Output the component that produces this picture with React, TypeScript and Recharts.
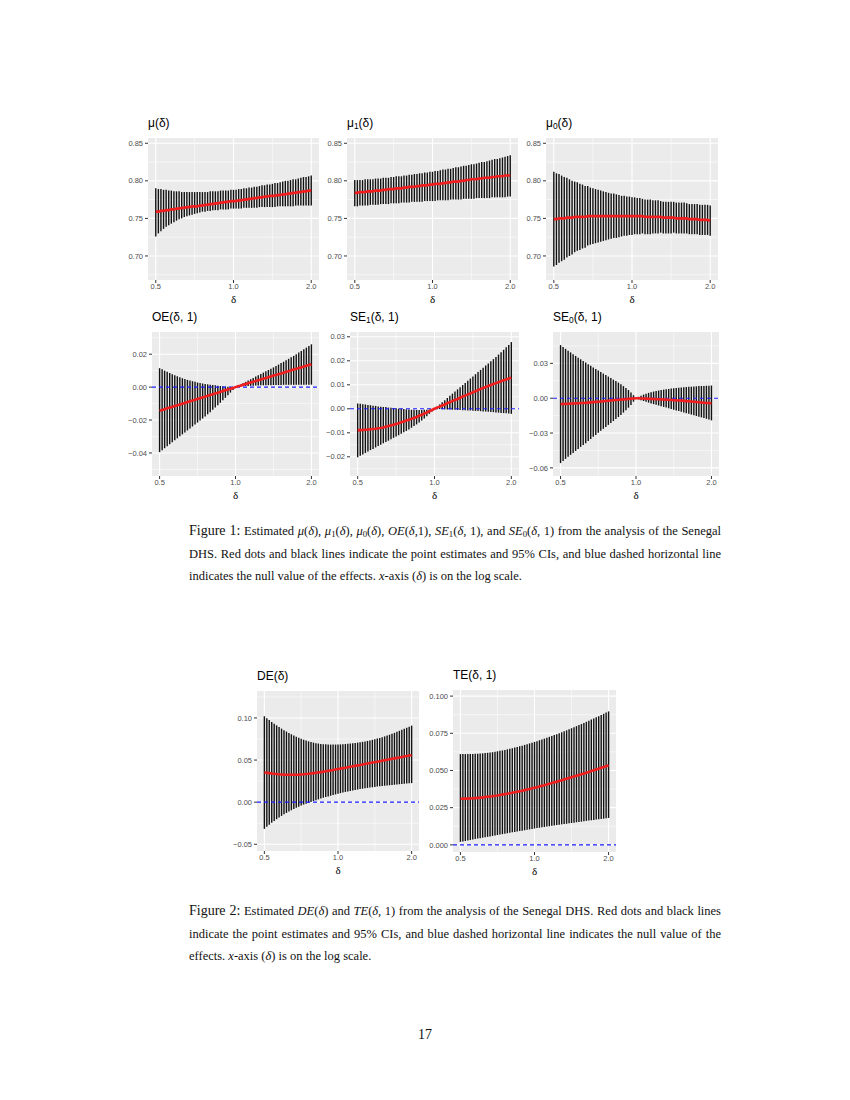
import React from 'react';
import { ComposedChart, Scatter, Line, ErrorBar, XAxis, YAxis, CartesianGrid, ReferenceLine } from 'recharts';

// delta grid (log scale, 0.5 .. 2)
const delta = [
  0.5, 0.5117, 0.5235, 0.5359, 0.5484, 0.5612, 0.5743, 0.5878, 0.6015, 0.6156,
  0.63, 0.6447, 0.6598, 0.6752, 0.691, 0.7071, 0.7236, 0.7406, 0.7579, 0.7756,
  0.7937, 0.8123, 0.8312, 0.8507, 0.8706, 0.8909, 0.9117, 0.933, 0.9548, 0.9772,
  1, 1.0234, 1.0473, 1.0718, 1.0968, 1.1225, 1.1487, 1.1755, 1.203, 1.2311,
  1.2599, 1.2894, 1.3195, 1.3504, 1.3819, 1.4142, 1.4473, 1.4811, 1.5157, 1.5511,
  1.5874, 1.6245, 1.6625, 1.7013, 1.7411, 1.7818, 1.8234, 1.8661, 1.9097, 1.9543,
  2,
];
const xTicks = [0.5, 1, 2];
const xMinor = [0.7071, 1.4142];

// mu(delta)
const muEst = [
  0.759, 0.759, 0.760, 0.760, 0.761, 0.761, 0.762, 0.762, 0.763, 0.763,
  0.764, 0.764, 0.765, 0.765, 0.766, 0.766, 0.766, 0.767, 0.767, 0.768,
  0.768, 0.769, 0.769, 0.770, 0.770, 0.771, 0.771, 0.772, 0.772, 0.773,
  0.773, 0.773, 0.774, 0.774, 0.775, 0.775, 0.776, 0.776, 0.777, 0.777,
  0.778, 0.778, 0.779, 0.779, 0.780, 0.780, 0.780, 0.781, 0.781, 0.782,
  0.782, 0.783, 0.783, 0.784, 0.784, 0.785, 0.785, 0.786, 0.786, 0.787,
  0.787,
];
const muHi = [
  0.790, 0.789, 0.789, 0.788, 0.788, 0.787, 0.787, 0.786, 0.786, 0.786,
  0.785, 0.785, 0.785, 0.785, 0.785, 0.785, 0.785, 0.785, 0.785, 0.785,
  0.785, 0.786, 0.786, 0.786, 0.786, 0.787, 0.787, 0.787, 0.787, 0.788,
  0.788, 0.788, 0.789, 0.789, 0.790, 0.790, 0.791, 0.791, 0.792, 0.792,
  0.793, 0.794, 0.794, 0.795, 0.795, 0.796, 0.797, 0.797, 0.798, 0.799,
  0.800, 0.800, 0.801, 0.802, 0.802, 0.803, 0.804, 0.805, 0.805, 0.806,
  0.807,
];
const muLo = [
  0.726, 0.730, 0.733, 0.736, 0.739, 0.741, 0.743, 0.745, 0.747, 0.749,
  0.750, 0.752, 0.753, 0.754, 0.755, 0.756, 0.757, 0.758, 0.759, 0.759,
  0.760, 0.760, 0.761, 0.761, 0.761, 0.762, 0.762, 0.762, 0.762, 0.763,
  0.763, 0.763, 0.763, 0.763, 0.764, 0.764, 0.764, 0.764, 0.764, 0.764,
  0.765, 0.765, 0.765, 0.765, 0.765, 0.765, 0.765, 0.766, 0.766, 0.766,
  0.766, 0.766, 0.766, 0.766, 0.767, 0.767, 0.767, 0.767, 0.767, 0.767,
  0.767,
];

// mu1(delta)
const mu1Est = [
  0.784, 0.784, 0.785, 0.785, 0.785, 0.786, 0.786, 0.786, 0.787, 0.787,
  0.787, 0.788, 0.788, 0.789, 0.789, 0.789, 0.790, 0.790, 0.790, 0.791,
  0.791, 0.792, 0.792, 0.792, 0.793, 0.793, 0.794, 0.794, 0.794, 0.795,
  0.795, 0.796, 0.796, 0.796, 0.797, 0.797, 0.798, 0.798, 0.799, 0.799,
  0.799, 0.800, 0.800, 0.801, 0.801, 0.802, 0.802, 0.802, 0.803, 0.803,
  0.804, 0.804, 0.804, 0.805, 0.805, 0.806, 0.806, 0.806, 0.807, 0.807,
  0.807,
];
const mu1Hi = [
  0.801, 0.801, 0.801, 0.801, 0.802, 0.802, 0.802, 0.802, 0.803, 0.803,
  0.803, 0.804, 0.804, 0.804, 0.805, 0.805, 0.806, 0.806, 0.806, 0.807,
  0.807, 0.808, 0.808, 0.809, 0.809, 0.810, 0.810, 0.811, 0.811, 0.812,
  0.812, 0.813, 0.813, 0.814, 0.815, 0.815, 0.816, 0.816, 0.817, 0.818,
  0.818, 0.819, 0.820, 0.820, 0.821, 0.822, 0.822, 0.823, 0.824, 0.825,
  0.825, 0.826, 0.827, 0.828, 0.829, 0.829, 0.830, 0.831, 0.832, 0.833,
  0.834,
];
const mu1Lo = [
  0.766, 0.766, 0.767, 0.767, 0.767, 0.767, 0.768, 0.768, 0.768, 0.768,
  0.769, 0.769, 0.769, 0.769, 0.770, 0.770, 0.770, 0.770, 0.771, 0.771,
  0.771, 0.771, 0.772, 0.772, 0.772, 0.772, 0.772, 0.773, 0.773, 0.773,
  0.773, 0.773, 0.774, 0.774, 0.774, 0.774, 0.774, 0.775, 0.775, 0.775,
  0.775, 0.775, 0.776, 0.776, 0.776, 0.776, 0.776, 0.777, 0.777, 0.777,
  0.777, 0.777, 0.777, 0.778, 0.778, 0.778, 0.778, 0.778, 0.778, 0.779,
  0.779,
];

// mu0(delta)
const mu0Est = [
  0.749, 0.749, 0.750, 0.750, 0.750, 0.751, 0.751, 0.751, 0.752, 0.752,
  0.752, 0.752, 0.752, 0.753, 0.753, 0.753, 0.753, 0.753, 0.753, 0.753,
  0.753, 0.753, 0.753, 0.753, 0.753, 0.753, 0.753, 0.753, 0.753, 0.753,
  0.753, 0.753, 0.753, 0.753, 0.753, 0.752, 0.752, 0.752, 0.752, 0.752,
  0.752, 0.752, 0.751, 0.751, 0.751, 0.751, 0.751, 0.750, 0.750, 0.750,
  0.750, 0.750, 0.749, 0.749, 0.749, 0.749, 0.748, 0.748, 0.748, 0.748,
  0.747,
];
const mu0Hi = [
  0.812, 0.810, 0.809, 0.807, 0.805, 0.804, 0.802, 0.800, 0.799, 0.798,
  0.796, 0.795, 0.793, 0.793, 0.791, 0.790, 0.789, 0.788, 0.787, 0.786,
  0.785, 0.784, 0.783, 0.783, 0.782, 0.781, 0.780, 0.780, 0.779, 0.779,
  0.778, 0.778, 0.777, 0.777, 0.776, 0.775, 0.775, 0.775, 0.774, 0.774,
  0.774, 0.773, 0.772, 0.772, 0.772, 0.772, 0.772, 0.771, 0.771, 0.771,
  0.771, 0.770, 0.769, 0.769, 0.769, 0.769, 0.768, 0.768, 0.768, 0.768,
  0.767,
];
const mu0Lo = [
  0.686, 0.688, 0.691, 0.693, 0.695, 0.698, 0.700, 0.702, 0.705, 0.707,
  0.708, 0.710, 0.711, 0.714, 0.715, 0.716, 0.717, 0.718, 0.719, 0.720,
  0.721, 0.722, 0.723, 0.724, 0.724, 0.725, 0.726, 0.727, 0.727, 0.728,
  0.728, 0.729, 0.729, 0.729, 0.730, 0.729, 0.729, 0.729, 0.730, 0.730,
  0.730, 0.731, 0.730, 0.730, 0.730, 0.730, 0.731, 0.730, 0.730, 0.730,
  0.730, 0.730, 0.729, 0.729, 0.729, 0.729, 0.728, 0.728, 0.728, 0.728,
  0.727,
];

// OE(delta, 1)
const oeEst = [
  -0.0144, -0.0139, -0.0134, -0.0129, -0.0124, -0.0120, -0.0115, -0.0110, -0.0106, -0.0101,
  -0.0096, -0.0091, -0.0086, -0.0082, -0.0077, -0.0072, -0.0067, -0.0062, -0.0058, -0.0053,
  -0.0048, -0.0043, -0.0038, -0.0034, -0.0029, -0.0024, -0.0019, -0.0014, -0.0010, -0.0005,
  0, 0.0005, 0.0009, 0.0014, 0.0019, 0.0023, 0.0028, 0.0032, 0.0037, 0.0042,
  0.0046, 0.0051, 0.0056, 0.0060, 0.0065, 0.0070, 0.0074, 0.0079, 0.0083, 0.0088,
  0.0093, 0.0097, 0.0102, 0.0107, 0.0111, 0.0116, 0.0120, 0.0125, 0.0130, 0.0134,
  0.0139,
];
const oeHi = [
  0.0115, 0.0108, 0.0100, 0.0093, 0.0086, 0.0079, 0.0072, 0.0066, 0.0060, 0.0054,
  0.0049, 0.0044, 0.0040, 0.0036, 0.0032, 0.0028, 0.0025, 0.0022, 0.0019, 0.0017,
  0.0015, 0.0013, 0.0011, 0.0009, 0.0007, 0.0006, 0.0004, 0.0003, 0.0002, 0.0001,
  0, 0.0008, 0.0016, 0.0024, 0.0032, 0.0040, 0.0048, 0.0056, 0.0064, 0.0072,
  0.0080, 0.0088, 0.0096, 0.0104, 0.0112, 0.0120, 0.0129, 0.0137, 0.0146, 0.0154,
  0.0163, 0.0172, 0.0181, 0.0190, 0.0200, 0.0210, 0.0220, 0.0230, 0.0240, 0.0250,
  0.0260,
];
const oeLo = [
  -0.0395, -0.0383, -0.0371, -0.0359, -0.0347, -0.0335, -0.0323, -0.0311, -0.0299, -0.0287,
  -0.0275, -0.0263, -0.0251, -0.0239, -0.0227, -0.0215, -0.0203, -0.0191, -0.0178, -0.0165,
  -0.0152, -0.0138, -0.0124, -0.0110, -0.0095, -0.0080, -0.0065, -0.0049, -0.0033, -0.0017,
  0, 0.0002, 0.0004, 0.0005, 0.0006, 0.0007, 0.0008, 0.0009, 0.0010, 0.0010,
  0.0011, 0.0011, 0.0012, 0.0012, 0.0012, 0.0013, 0.0013, 0.0013, 0.0013, 0.0014,
  0.0014, 0.0014, 0.0014, 0.0014, 0.0014, 0.0015, 0.0015, 0.0015, 0.0015, 0.0015,
  0.0015,
];

// SE1(delta, 1)
const se1Est = [
  -0.0090, -0.0089, -0.0088, -0.0087, -0.0086, -0.0085, -0.0084, -0.0083, -0.0081, -0.0080,
  -0.0078, -0.0075, -0.0072, -0.0069, -0.0066, -0.0063, -0.0060, -0.0056, -0.0053, -0.0049,
  -0.0046, -0.0042, -0.0038, -0.0034, -0.0029, -0.0025, -0.0020, -0.0015, -0.0010, -0.0005,
  0, 0.0005, 0.0009, 0.0014, 0.0018, 0.0023, 0.0028, 0.0032, 0.0037, 0.0041,
  0.0046, 0.0051, 0.0055, 0.0060, 0.0064, 0.0069, 0.0073, 0.0078, 0.0083, 0.0087,
  0.0091, 0.0095, 0.0099, 0.0103, 0.0107, 0.0111, 0.0115, 0.0119, 0.0122, 0.0126,
  0.0130,
];
const se1Hi = [
  0.0022, 0.0021, 0.0019, 0.0018, 0.0016, 0.0015, 0.0013, 0.0012, 0.0010, 0.0009,
  0.0008, 0.0007, 0.0005, 0.0004, 0.0003, 0.0002, 0.0001, 0, -0.0001, -0.0002,
  -0.0003, -0.0004, -0.0004, -0.0005, -0.0005, -0.0005, -0.0004, -0.0004, -0.0003, -0.0001,
  0, 0.0009, 0.0018, 0.0027, 0.0036, 0.0045, 0.0054, 0.0063, 0.0072, 0.0081,
  0.0090, 0.0099, 0.0108, 0.0117, 0.0126, 0.0135, 0.0144, 0.0153, 0.0162, 0.0171,
  0.0180, 0.0189, 0.0198, 0.0207, 0.0216, 0.0226, 0.0236, 0.0246, 0.0256, 0.0266,
  0.0278,
];
const se1Lo = [
  -0.0202, -0.0196, -0.0190, -0.0184, -0.0178, -0.0172, -0.0167, -0.0161, -0.0155, -0.0150,
  -0.0144, -0.0138, -0.0133, -0.0127, -0.0121, -0.0115, -0.0110, -0.0104, -0.0098, -0.0092,
  -0.0086, -0.0079, -0.0072, -0.0065, -0.0057, -0.0049, -0.0040, -0.0031, -0.0021, -0.0011,
  0, -0.0001, -0.0001, -0.0002, -0.0002, -0.0003, -0.0003, -0.0004, -0.0004, -0.0005,
  -0.0005, -0.0006, -0.0006, -0.0007, -0.0007, -0.0008, -0.0009, -0.0009, -0.0010, -0.0011,
  -0.0011, -0.0012, -0.0013, -0.0014, -0.0015, -0.0016, -0.0017, -0.0018, -0.0019, -0.0020,
  -0.0021,
];

// SE0(delta, 1)
const se0Est = [
  -0.0051, -0.0050, -0.0049, -0.0048, -0.0047, -0.0046, -0.0045, -0.0044, -0.0042, -0.0041,
  -0.0040, -0.0038, -0.0036, -0.0034, -0.0032, -0.0030, -0.0028, -0.0026, -0.0024, -0.0022,
  -0.0020, -0.0018, -0.0016, -0.0014, -0.0012, -0.0010, -0.0008, -0.0006, -0.0004, -0.0002,
  0, -0.0001, -0.0002, -0.0003, -0.0004, -0.0005, -0.0006, -0.0007, -0.0008, -0.0009,
  -0.0010, -0.0011, -0.0012, -0.0014, -0.0015, -0.0017, -0.0018, -0.0020, -0.0021, -0.0023,
  -0.0025, -0.0027, -0.0029, -0.0031, -0.0033, -0.0035, -0.0037, -0.0039, -0.0041, -0.0042,
  -0.0043,
];
const se0Hi = [
  0.0457, 0.0441, 0.0425, 0.0409, 0.0394, 0.0379, 0.0364, 0.0349, 0.0335, 0.0321,
  0.0307, 0.0293, 0.0279, 0.0265, 0.0252, 0.0238, 0.0225, 0.0212, 0.0199, 0.0186,
  0.0173, 0.0160, 0.0147, 0.0134, 0.0120, 0.0104, 0.0088, 0.0070, 0.0050, 0.0026,
  0, 0.0012, 0.0022, 0.0031, 0.0039, 0.0046, 0.0052, 0.0057, 0.0062, 0.0066,
  0.0070, 0.0074, 0.0077, 0.0080, 0.0083, 0.0086, 0.0088, 0.0090, 0.0092, 0.0094,
  0.0096, 0.0098, 0.0099, 0.0101, 0.0102, 0.0104, 0.0105, 0.0106, 0.0107, 0.0108,
  0.0109,
];
const se0Lo = [
  -0.0559, -0.0541, -0.0523, -0.0505, -0.0488, -0.0471, -0.0454, -0.0437, -0.0419, -0.0403,
  -0.0387, -0.0369, -0.0351, -0.0333, -0.0316, -0.0298, -0.0281, -0.0264, -0.0247, -0.0230,
  -0.0213, -0.0196, -0.0179, -0.0162, -0.0144, -0.0124, -0.0104, -0.0082, -0.0058, -0.0030,
  0, -0.0009, -0.0017, -0.0024, -0.0031, -0.0038, -0.0045, -0.0051, -0.0057, -0.0063,
  -0.0069, -0.0075, -0.0081, -0.0087, -0.0093, -0.0099, -0.0105, -0.0111, -0.0117, -0.0123,
  -0.0129, -0.0135, -0.0141, -0.0147, -0.0153, -0.0159, -0.0165, -0.0171, -0.0177, -0.0184,
  -0.0191,
];

// DE(delta)
const deEst = [
  0.0353, 0.0349, 0.0345, 0.0341, 0.0337, 0.0334, 0.0331, 0.0329, 0.0327, 0.0326,
  0.0325, 0.0325, 0.0325, 0.0326, 0.0327, 0.0329, 0.0331, 0.0334, 0.0337, 0.0341,
  0.0345, 0.0349, 0.0353, 0.0357, 0.0362, 0.0367, 0.0372, 0.0377, 0.0382, 0.0388,
  0.0393, 0.0398, 0.0404, 0.0409, 0.0415, 0.0420, 0.0426, 0.0431, 0.0437, 0.0442,
  0.0448, 0.0453, 0.0459, 0.0464, 0.0470, 0.0475, 0.0481, 0.0486, 0.0492, 0.0498,
  0.0504, 0.0509, 0.0515, 0.0520, 0.0526, 0.0531, 0.0537, 0.0542, 0.0547, 0.0553,
  0.0558,
];
const deHi = [
  0.1020, 0.0997, 0.0975, 0.0953, 0.0932, 0.0912, 0.0892, 0.0873, 0.0855, 0.0838,
  0.0822, 0.0806, 0.0792, 0.0778, 0.0765, 0.0753, 0.0742, 0.0732, 0.0722, 0.0714,
  0.0707, 0.0701, 0.0696, 0.0692, 0.0689, 0.0687, 0.0685, 0.0684, 0.0684, 0.0684,
  0.0685, 0.0686, 0.0688, 0.0690, 0.0693, 0.0696, 0.0699, 0.0703, 0.0707, 0.0711,
  0.0716, 0.0721, 0.0727, 0.0733, 0.0740, 0.0747, 0.0755, 0.0763, 0.0772, 0.0781,
  0.0791, 0.0801, 0.0812, 0.0823, 0.0835, 0.0847, 0.0859, 0.0871, 0.0884, 0.0896,
  0.0909,
];
const deLo = [
  -0.0317, -0.0292, -0.0268, -0.0245, -0.0223, -0.0202, -0.0182, -0.0163, -0.0145, -0.0128,
  -0.0112, -0.0096, -0.0081, -0.0067, -0.0054, -0.0041, -0.0029, -0.0018, -0.0008, 0.0003,
  0.0013, 0.0023, 0.0033, 0.0042, 0.0051, 0.0060, 0.0068, 0.0076, 0.0084, 0.0092,
  0.0100, 0.0107, 0.0114, 0.0121, 0.0127, 0.0133, 0.0139, 0.0145, 0.0150, 0.0155,
  0.0160, 0.0165, 0.0169, 0.0173, 0.0177, 0.0181, 0.0185, 0.0189, 0.0192, 0.0195,
  0.0198, 0.0201, 0.0204, 0.0207, 0.0210, 0.0213, 0.0216, 0.0219, 0.0222, 0.0224,
  0.0226,
];

// TE(delta, 1)
const teEst = [
  0.0310, 0.0310, 0.0311, 0.0311, 0.0312, 0.0313, 0.0314, 0.0316, 0.0317, 0.0319,
  0.0321, 0.0323, 0.0325, 0.0327, 0.0330, 0.0332, 0.0335, 0.0338, 0.0341, 0.0344,
  0.0347, 0.0350, 0.0354, 0.0357, 0.0361, 0.0364, 0.0368, 0.0372, 0.0376, 0.0380,
  0.0384, 0.0388, 0.0393, 0.0397, 0.0401, 0.0406, 0.0410, 0.0415, 0.0420, 0.0424,
  0.0429, 0.0434, 0.0439, 0.0444, 0.0449, 0.0454, 0.0459, 0.0464, 0.0469, 0.0474,
  0.0480, 0.0485, 0.0490, 0.0496, 0.0501, 0.0507, 0.0512, 0.0518, 0.0523, 0.0529,
  0.0535,
];
const teHi = [
  0.0610, 0.0610, 0.0610, 0.0610, 0.0611, 0.0611, 0.0612, 0.0613, 0.0614, 0.0615,
  0.0617, 0.0619, 0.0621, 0.0623, 0.0626, 0.0629, 0.0632, 0.0635, 0.0638, 0.0642,
  0.0646, 0.0650, 0.0654, 0.0658, 0.0663, 0.0667, 0.0672, 0.0677, 0.0682, 0.0687,
  0.0692, 0.0697, 0.0703, 0.0708, 0.0714, 0.0720, 0.0726, 0.0732, 0.0738, 0.0744,
  0.0750, 0.0757, 0.0763, 0.0770, 0.0777, 0.0784, 0.0791, 0.0798, 0.0805, 0.0812,
  0.0819, 0.0827, 0.0834, 0.0842, 0.0849, 0.0857, 0.0865, 0.0873, 0.0881, 0.0889,
  0.0897,
];
const teLo = [
  0.0020, 0.0023, 0.0026, 0.0030, 0.0033, 0.0036, 0.0039, 0.0042, 0.0045, 0.0048,
  0.0051, 0.0054, 0.0057, 0.0060, 0.0063, 0.0066, 0.0069, 0.0072, 0.0075, 0.0078,
  0.0081, 0.0084, 0.0087, 0.0090, 0.0093, 0.0095, 0.0098, 0.0101, 0.0104, 0.0107,
  0.0110, 0.0113, 0.0115, 0.0118, 0.0120, 0.0123, 0.0125, 0.0128, 0.0130, 0.0133,
  0.0135, 0.0138, 0.0140, 0.0142, 0.0145, 0.0147, 0.0149, 0.0152, 0.0154, 0.0156,
  0.0158, 0.0161, 0.0163, 0.0165, 0.0167, 0.0170, 0.0172, 0.0174, 0.0176, 0.0179,
  0.0181,
];

const SANS = '"Liberation Sans", Arial, Helvetica, sans-serif';
const SERIF = '"Liberation Serif", "Times New Roman", serif';

const sub = (s: string) => <sub style={{ fontSize: '70%', verticalAlign: '-0.25em', lineHeight: 0 }}>{s}</sub>;

const fmt = (digits: number) => (v: number) =>
  v < -1e-9 ? '\u2212' + Math.abs(v).toFixed(digits) : Math.abs(v).toFixed(digits);

const panels = [
  { key: 'mu', title: <>μ(δ)</>, est: muEst, lo: muLo, hi: muHi, x: 148, y: 138, w: 171, h: 142,
    domain: [0.668, 0.857], yTicks: [0.7, 0.75, 0.8, 0.85], yMinor: [0.675, 0.725, 0.775, 0.825], digits: 2, nullLine: false },
  { key: 'mu1', title: <>μ{sub('1')}(δ)</>, est: mu1Est, lo: mu1Lo, hi: mu1Hi, x: 347, y: 138, w: 171, h: 142,
    domain: [0.668, 0.857], yTicks: [0.7, 0.75, 0.8, 0.85], yMinor: [0.675, 0.725, 0.775, 0.825], digits: 2, nullLine: false },
  { key: 'mu0', title: <>μ{sub('0')}(δ)</>, est: mu0Est, lo: mu0Lo, hi: mu0Hi, x: 546, y: 138, w: 172, h: 142,
    domain: [0.668, 0.857], yTicks: [0.7, 0.75, 0.8, 0.85], yMinor: [0.675, 0.725, 0.775, 0.825], digits: 2, nullLine: false },
  { key: 'oe', title: <>OE(δ, 1)</>, est: oeEst, lo: oeLo, hi: oeHi, x: 152, y: 332, w: 167, h: 144,
    domain: [-0.054, 0.0335], yTicks: [-0.04, -0.02, 0, 0.02], yMinor: [-0.05, -0.03, -0.01, 0.01, 0.03], digits: 2, nullLine: true },
  { key: 'se1', title: <>SE{sub('1')}(δ, 1)</>, est: se1Est, lo: se1Lo, hi: se1Hi, x: 350, y: 332, w: 169, h: 144,
    domain: [-0.028, 0.032], yTicks: [-0.02, -0.01, 0, 0.01, 0.02, 0.03], yMinor: [-0.025, -0.015, -0.005, 0.005, 0.015, 0.025], digits: 2, nullLine: true },
  { key: 'se0', title: <>SE{sub('0')}(δ, 1)</>, est: se0Est, lo: se0Lo, hi: se0Hi, x: 553, y: 332, w: 166, h: 144,
    domain: [-0.067, 0.057], yTicks: [-0.06, -0.03, 0, 0.03], yMinor: [-0.045, -0.015, 0.015, 0.045], digits: 2, nullLine: true },
  { key: 'de', title: <>DE(δ)</>, est: deEst, lo: deLo, hi: deHi, x: 257, y: 691, w: 162, h: 160,
    domain: [-0.058, 0.132], yTicks: [-0.05, 0, 0.05, 0.1], yMinor: [-0.025, 0.025, 0.075, 0.125], digits: 2, nullLine: true },
  { key: 'te', title: <>TE(δ, 1)</>, est: teEst, lo: teLo, hi: teHi, x: 453, y: 690, w: 163, h: 162,
    domain: [-0.0048, 0.1041], yTicks: [0, 0.025, 0.05, 0.075, 0.1], yMinor: [0.0125, 0.0375, 0.0625, 0.0875], digits: 3, nullLine: true },
];

const Panel = ({ p }: { p: any }) => {
  const yW = 36;
  const xH = 24;
  const data = delta.map((d, i) => ({
    d,
    est: p.est[i],
    err: [p.est[i] - p.lo[i], p.hi[i] - p.est[i]],
  }));
  const tickStyle = { fontSize: 7.5, fill: '#4d4d4d', fontFamily: SANS };
  return (
    <>
      <div style={{ position: 'absolute', left: p.x, top: p.y - 22, fontSize: 12, fontFamily: SANS, color: '#000', whiteSpace: 'nowrap' }}>
        {p.title}
      </div>
      <div style={{ position: 'absolute', left: p.x - yW, top: p.y }}>
        <ComposedChart width={yW + p.w} height={p.h + xH} data={data} margin={{ top: 0, right: 0, bottom: 0, left: 0 }}>
          <CartesianGrid fill="#EBEBEB" fillOpacity={1} stroke="#FFFFFF" strokeWidth={0.55} verticalValues={xMinor} horizontalValues={p.yMinor} />
          <CartesianGrid stroke="#FFFFFF" strokeWidth={1.1} verticalValues={xTicks} horizontalValues={p.yTicks} />
          <XAxis
            type="number"
            dataKey="d"
            scale="log"
            domain={[0.4665, 2.1436]}
            allowDataOverflow
            ticks={xTicks}
            interval={0}
            tickFormatter={(v: number) => v.toFixed(1)}
            height={xH}
            axisLine={false}
            tickLine={{ stroke: '#333333' }}
            tickSize={3}
            tickMargin={1}
            tick={tickStyle}
            label={{ value: 'δ', position: 'insideBottom', offset: 1, fill: '#000', fontSize: 11, fontFamily: SERIF }}
          />
          <YAxis
            type="number"
            domain={p.domain}
            allowDataOverflow
            ticks={p.yTicks}
            interval={0}
            tickFormatter={fmt(p.digits)}
            width={yW}
            axisLine={false}
            tickLine={{ stroke: '#333333' }}
            tickSize={3}
            tickMargin={2}
            tick={tickStyle}
          />
          <Scatter dataKey="est" shape={() => <g />} isAnimationActive={false}>
            <ErrorBar dataKey="err" direction="y" width={0} stroke="#111111" strokeWidth={1.4} isAnimationActive={false} />
          </Scatter>
          {p.nullLine && <ReferenceLine y={0} stroke="#1a1aff" strokeDasharray="4 3" strokeWidth={1.1} />}
          <Line dataKey="est" type="linear" stroke="#F01E1E" strokeWidth={2.6} dot={false} isAnimationActive={false} />
        </ComposedChart>
      </div>
    </>
  );
};

const lineStyle: React.CSSProperties = { textAlign: 'justify', textAlignLast: 'justify', height: 22.5, lineHeight: '22.5px' };
const lastLine: React.CSSProperties = { textAlign: 'left', height: 22.5, lineHeight: '22.5px' };
const figLabel: React.CSSProperties = { fontSize: 14 };

export default function App() {
  return (
    <div style={{ position: 'absolute', left: 0, top: 0, width: 850, height: 1100, background: '#fff', overflow: 'hidden' }}>
      {panels.map((p) => (
        <Panel key={p.key} p={p} />
      ))}

      <div style={{ position: 'absolute', left: 189, top: 520, width: 532, fontFamily: SERIF, fontSize: 12.5, color: '#111' }}>
        <div style={lineStyle}>
          <span style={figLabel}>Figure 1:</span> Estimated <i>μ</i>(<i>δ</i>), <i>μ</i>{sub('1')}(<i>δ</i>), <i>μ</i>{sub('0')}(<i>δ</i>), <i>OE</i>(<i>δ</i>,1), <i>SE</i>{sub('1')}(<i>δ,</i> 1), and <i>SE</i>{sub('0')}(<i>δ,</i> 1) from the analysis of the Senegal
        </div>
        <div style={lineStyle}>
          DHS. Red dots and black lines indicate the point estimates and 95% CIs, and blue dashed horizontal line
        </div>
        <div style={lastLine}>
          indicates the null value of the effects. <i>x</i>-axis (<i>δ</i>) is on the log scale.
        </div>
      </div>

      <div style={{ position: 'absolute', left: 189, top: 900, width: 532, fontFamily: SERIF, fontSize: 12.5, color: '#111' }}>
        <div style={lineStyle}>
          <span style={figLabel}>Figure 2:</span> Estimated <i>DE</i>(<i>δ</i>) and <i>TE</i>(<i>δ,</i> 1) from the analysis of the Senegal DHS. Red dots and black lines
        </div>
        <div style={lineStyle}>
          indicate the point estimates and 95% CIs, and blue dashed horizontal line indicates the null value of the
        </div>
        <div style={lastLine}>
          effects. <i>x</i>-axis (<i>δ</i>) is on the log scale.
        </div>
      </div>

      <div style={{ position: 'absolute', left: 0, width: 850, top: 1027, textAlign: 'center', fontFamily: SERIF, fontSize: 14, color: '#111' }}>
        17
      </div>
    </div>
  );
}
